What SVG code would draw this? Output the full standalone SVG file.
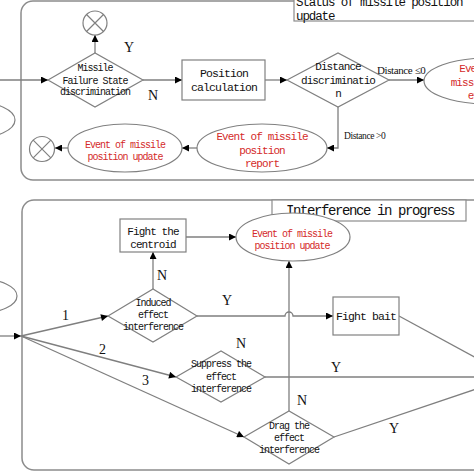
<svg xmlns="http://www.w3.org/2000/svg" width="474" height="474" viewBox="0 0 474 474">
<defs>
<marker id="ah" viewBox="0 0 10 10" refX="10" refY="5" markerWidth="9" markerHeight="7" orient="auto" markerUnits="userSpaceOnUse"><path d="M0,0 L10,5 L0,10 z" fill="#000"/></marker>
<style>
.panel{fill:none;stroke:#8c8c8c;stroke-width:1.5}
.shape{fill:#fff;stroke:#808080;stroke-width:1.2}
.conn{fill:none;stroke:#7f7f7f;stroke-width:1.3}
.arr{marker-end:url(#ah)}
text{font-family:"Liberation Mono","DejaVu Sans Mono",monospace;fill:#111}
.t10{font-size:10px;letter-spacing:-1px;text-anchor:middle}
.t11{font-size:11px;letter-spacing:-0.9px;text-anchor:middle}
.t12{font-size:11.5px;letter-spacing:-0.9px;text-anchor:middle}
.red{fill:#d42a2a}
.lbl{font-family:"Liberation Serif","Times New Roman",serif;font-size:14px;fill:#111}
.dl{font-family:"Liberation Serif","Times New Roman",serif;fill:#111;letter-spacing:-0.4px}
</style>
</defs>
<rect width="474" height="474" fill="#fff"/>

<!-- panels -->
<g id="panel-top">
<rect class="panel" x="21" y="1" width="600" height="179" rx="12"/>
<rect x="294" y="-5" width="300" height="26" fill="#fff" stroke="#8c8c8c" stroke-width="1.2"/>
<text x="296" y="6" style="font-size:12.5px;letter-spacing:-1.1px">Status of missile position</text>
<text x="296" y="19.5" style="font-size:12.5px;letter-spacing:-1.1px">update</text>
</g>
<g id="panel-bottom">
<rect class="panel" x="22" y="200" width="600" height="270" rx="12"/>
<rect x="272" y="200" width="194" height="21" fill="#fff" stroke="#8c8c8c" stroke-width="1.2"/>
<text x="286" y="215" style="font-size:14px;letter-spacing:-1.4px">Interference in progress</text>
</g>

<!-- partial left ellipses -->
<g id="left-ellipse-top"><ellipse class="shape" cx="-25" cy="120" rx="40" ry="18"/></g>
<g id="left-ellipse-bottom"><ellipse class="shape" cx="-20" cy="296" rx="37" ry="17"/></g>

<!-- connectors -->
<g id="connectors">
<path class="conn arr" d="M0,80 H48"/>
<path class="conn arr" d="M95,53 V35"/>
<path class="conn arr" d="M143,80 H182"/>
<path class="conn arr" d="M265,80 H287"/>
<path class="conn arr" d="M389,80 H424"/>
<path class="conn arr" d="M338,107 V148 H327"/>
<path class="conn arr" d="M198,148 H182"/>
<path class="conn arr" d="M68,148 H55"/>
<path class="conn arr" d="M0,336 H21"/>
<path class="conn arr" d="M21,336 L108,316"/>
<path class="conn arr" d="M21,336 L176,377"/>
<path class="conn arr" d="M21,336 L244,437"/>
<path class="conn arr" d="M153,289 V252"/>
<path class="conn arr" d="M186,237 H236"/>
<path class="conn arr" d="M197,316 H285 a4,4 0 0 1 8,0 H333"/>
<path class="conn arr" d="M289,411 V261"/>
<path class="conn" d="M399,316 L500,371"/>
<path class="conn" d="M265,377 H500"/>
<path class="conn" d="M334,437 L500,381"/>
</g>

<!-- labels -->
<g id="labels">
<text class="lbl" x="124" y="52">Y</text>
<text class="lbl" x="148" y="100">N</text>
<text class="dl" x="377" y="74" style="font-size:11px">Distance ≤0</text>
<text class="dl" x="344" y="139" style="font-size:9.5px">Distance &gt;0</text>
<text class="lbl" x="157" y="280">N</text>
<text class="lbl" x="222" y="305">Y</text>
<text class="lbl" x="62" y="320">1</text>
<text class="lbl" x="99" y="354">2</text>
<text class="lbl" x="142" y="385">3</text>
<text class="lbl" x="236" y="348">N</text>
<text class="lbl" x="331" y="372">Y</text>
<text class="lbl" x="297" y="405">N</text>
<text class="lbl" x="389" y="433">Y</text>
</g>

<!-- nodes -->
<g id="end-top">
<circle class="shape" cx="95" cy="23" r="12"/>
<path d="M86.5,14.5 L103.5,31.5 M103.5,14.5 L86.5,31.5" stroke="#808080" stroke-width="1.2"/>
</g>
<g id="end-left">
<circle class="shape" cx="42" cy="149" r="12.5"/>
<path d="M33.2,140.2 L50.8,157.8 M50.8,140.2 L33.2,157.8" stroke="#808080" stroke-width="1.2"/>
</g>
<g id="failure-diamond">
<polygon class="shape" points="48,80 95,53 143,80 95,107"/>
<text class="t10" x="95" y="71">Missile</text>
<text class="t10" x="95" y="84">Failure State</text>
<text class="t10" x="95" y="95">discrimination</text>
</g>
<g id="position-calc">
<rect class="shape" x="182" y="60" width="83" height="40"/>
<text class="t12" x="224" y="77">Position</text>
<text class="t12" x="224" y="91">calculation</text>
</g>
<g id="distance-diamond">
<polygon class="shape" points="287,80 338,53 389,80 338,107"/>
<text class="t11" x="338" y="70">Distance</text>
<text class="t11" x="338" y="84">discriminatio</text>
<text class="t11" x="338" y="97">n</text>
</g>
<g id="hit-event">
<ellipse class="shape" cx="488" cy="81" rx="64" ry="23"/>
<text class="t11 red" x="482" y="72">Event of</text>
<text class="t11 red" x="482" y="86">missile hit</text>
<text class="t11 red" x="482" y="99">event</text>
</g>
<g id="report-event">
<ellipse class="shape" cx="262" cy="148" rx="65" ry="24"/>
<text class="t11 red" x="262" y="140">Event of missile</text>
<text class="t11 red" x="262" y="154">position</text>
<text class="t11 red" x="262" y="167">report</text>
</g>
<g id="update-event-top">
<ellipse class="shape" cx="125" cy="148" rx="57" ry="24"/>
<text class="t10 red" x="125" y="148">Event of missile</text>
<text class="t10 red" x="125" y="160">position update</text>
</g>

<g id="fight-centroid">
<rect class="shape" x="120" y="219" width="66" height="33"/>
<text class="t11" x="153" y="235">Fight the</text>
<text class="t11" x="153" y="248">centroid</text>
</g>
<g id="update-event-bottom">
<ellipse class="shape" cx="293" cy="237" rx="57" ry="24"/>
<text class="t10 red" x="292" y="237">Event of missile</text>
<text class="t10 red" x="292" y="249">position update</text>
</g>
<g id="fight-bait">
<rect class="shape" x="333" y="297" width="66" height="38"/>
<text class="t12" x="366" y="320">Fight bait</text>
</g>
<g id="induced-diamond">
<polygon class="shape" points="108,316 153,289 197,316 153,342"/>
<text class="t10" x="153" y="306">Induced</text>
<text class="t10" x="153" y="318">effect</text>
<text class="t10" x="153" y="330">interference</text>
</g>
<g id="suppress-diamond">
<polygon class="shape" points="176,377 221,351 265,377 221,402"/>
<text class="t10" x="221" y="367">Suppress the</text>
<text class="t10" x="221" y="380">effect</text>
<text class="t10" x="221" y="392">interference</text>
</g>
<g id="drag-diamond">
<polygon class="shape" points="244,437 289,411 334,437 289,464"/>
<text class="t10" x="289" y="429">Drag the</text>
<text class="t10" x="289" y="441">effect</text>
<text class="t10" x="289" y="453">interference</text>
</g>
</svg>
